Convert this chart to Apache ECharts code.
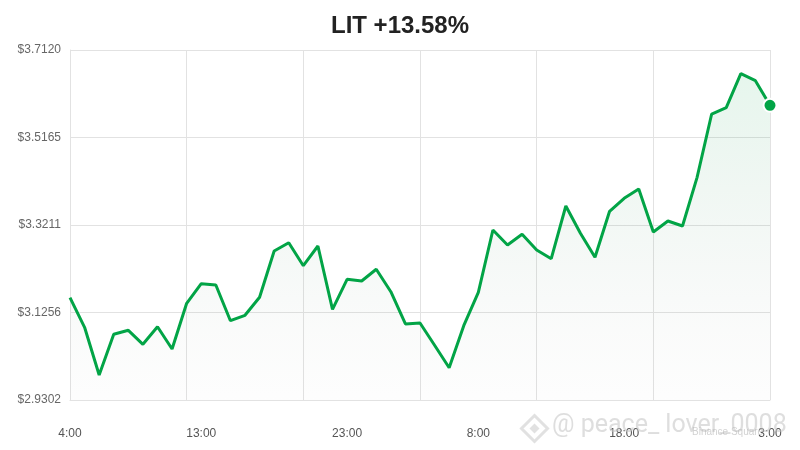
<!DOCTYPE html>
<html>
<head>
<meta charset="utf-8">
<script src="https://cdn.jsdelivr.net/npm/echarts@6/dist/echarts.min.js"></script>
<style>html,body{margin:0;padding:0;background:#fff;}#c{width:800px;height:450px;}</style>
</head>
<body>
<div id="c"></div>
<script>
const titleText = 'LIT +13.58%';
const prices = [3.1587, 3.0926, 2.9860, 3.0770, 3.0859, 3.0546, 3.0939, 3.0441, 3.1462, 3.1900,
  3.1871, 3.1073, 3.1194, 3.1596, 3.2630, 3.2816, 3.2302, 3.2742, 3.1328, 3.1998,
  3.1960, 3.2222, 3.1721, 3.1000, 3.1022, 3.0524, 3.0023, 3.0962, 3.1708, 3.3099,
  3.2764, 3.3003, 3.2653, 3.2458, 3.3635, 3.3026, 3.2490, 3.3517, 3.3807, 3.4015,
  3.3055, 3.3300, 3.3189, 3.4276, 3.5690, 3.5831, 3.6591, 3.6434, 3.5885];
const categories = prices.map((v, i) => String(i));
const xTickIndex = [0, 9, 19, 28, 38, 48];
const xTickLabels = ['4:00', '13:00', '23:00', '8:00', '18:00', '3:00'];
const yMin = 2.9302;
const yMax = 3.7120;
const yTickLabels = ['$2.9302', '$3.1256', '$3.3211', '$3.5165', '$3.7120'];

const chart = echarts.init(document.getElementById('c'), null, {renderer: 'canvas'});
const green = '#02a446';
const lastIdx = prices.length - 1;
chart.setOption({
  animation: false,
  backgroundColor: '#fff',
  textStyle: {fontFamily: 'Liberation Sans, Arial, sans-serif'},
  title: {
    text: titleText, left: 'center', top: 9,
    textStyle: {fontSize: 24, fontWeight: 'bold', color: '#222', fontFamily: 'Liberation Sans, Arial, sans-serif'}
  },
  grid: {left: 70, right: 30, top: 50, bottom: 50, containLabel: false},
  xAxis: {
    type: 'category', data: categories, boundaryGap: false,
    axisLine: {show: true, lineStyle: {color: '#e2e2e2', width: 1}},
    axisTick: {show: false},
    splitLine: {show: true, interval: 7, lineStyle: {color: '#e2e2e2', width: 1}},
    axisLabel: {
      interval: (i) => xTickIndex.indexOf(i) >= 0,
      formatter: (v, i) => { const k = xTickIndex.indexOf(Number(v)); return k >= 0 ? xTickLabels[k] : ''; },
      color: '#555', fontSize: 12, margin: 28, showMaxLabel: true, showMinLabel: true
    }
  },
  yAxis: {
    type: 'value', min: yMin, max: yMax, interval: (yMax - yMin) / 4,
    axisLine: {show: true, lineStyle: {color: '#e2e2e2'}},
    axisTick: {show: false},
    splitLine: {show: true, lineStyle: {color: '#e2e2e2', width: 1}},
    axisLabel: {
      formatter: (v, i) => yTickLabels[i] !== undefined ? yTickLabels[i] : '',
      color: '#666', fontSize: 12, margin: 9
    }
  },
  graphic: [
    {type: 'text', left: 552, top: 413, silent: true, z: 100,
     style: {text: '@ peace_ lover_0008', fontSize: 25, fill: 'rgba(195,195,195,0.55)', fontFamily: 'Roboto, Liberation Sans, sans-serif'}},
    {type: 'text', left: 692, top: 427, silent: true, z: 100,
     style: {text: 'Binance Square', fontSize: 10, fill: 'rgba(180,180,180,0.6)', fontFamily: 'Liberation Sans, sans-serif'}},
    {type: 'group', left: 519, top: 413, silent: true, z: 100, children: [
      {type: 'polygon', shape: {points: [[13,0],[26,13],[13,26],[0,13]]}, style: {fill: 'none', stroke: 'rgba(195,195,195,0.5)', lineWidth: 3}},
      {type: 'polygon', shape: {points: [[13,8],[18,13],[13,18],[8,13]]}, style: {fill: 'rgba(195,195,195,0.5)'}}
    ]}
  ],
  series: [
    {
      type: 'line', data: prices, showSymbol: false, smooth: false,
      lineStyle: {color: green, width: 3},
      itemStyle: {color: green},
      areaStyle: {
        color: new echarts.graphic.LinearGradient(0, 0, 0, 1, [
          {offset: 0, color: 'rgba(2,164,70,0.14)'},
          {offset: 0.6, color: 'rgba(40,110,70,0.06)'},
          {offset: 1, color: 'rgba(120,120,120,0.02)'}
        ])
      },
      z: 3
    },
    {
      type: 'scatter',
      data: prices.map((v, i) => i === lastIdx ? v : '-'),
      symbol: 'circle', symbolSize: 13,
      itemStyle: {color: green, borderColor: '#fff', borderWidth: 2, opacity: 1},
      z: 5
    }
  ]
});
</script>
</body>
</html>
